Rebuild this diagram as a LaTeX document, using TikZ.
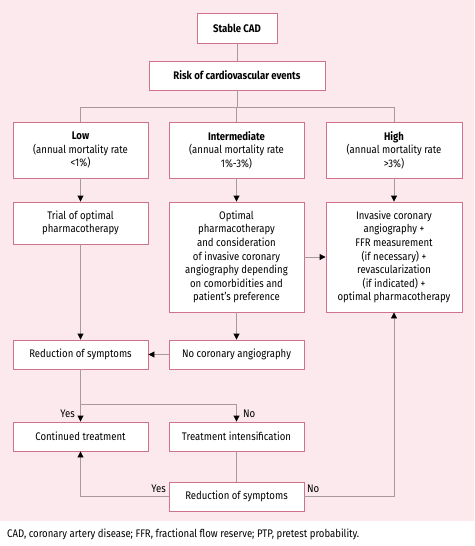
\documentclass[tikz,border=0pt]{standalone}
\usepackage{fontspec}
\setmainfont[FakeStretch=0.87]{Fira Sans}
\usetikzlibrary{arrows.meta}
\definecolor{bg}{HTML}{FCE9ED}
\definecolor{bd}{HTML}{D0728C}
\definecolor{ln}{HTML}{A89A9C}
\begin{document}
\begin{tikzpicture}[x=1pt,y=-1pt,
 box/.style={draw=bd,fill=white,line width=0.9pt,align=center,inner sep=0pt,font=\fontsize{11}{13.6}\selectfont},
 conn/.style={draw=ln,line width=0.9pt},
 arr/.style={conn,-{Triangle[length=6pt,width=6pt,color=black]}},
 lbl/.style={font=\fontsize{11}{13}\selectfont,inner sep=0pt}]
\useasboundingbox (0,0) rectangle (474,546);
\fill[bg] (0,0) rectangle (474,521);
\node[box,minimum width=80,minimum height=30,font=\bfseries\fontsize{11}{13.6}\selectfont] (cad) at (237,28) {Stable CAD};
\node[box,minimum width=176,minimum height=29,font=\bfseries\fontsize{11}{13.6}\selectfont] (risk) at (237,75.5) {Risk of cardiovascular events};
\node[box,minimum width=135,minimum height=56] (low) at (80.5,150) {\textbf{Low}\\(annual mortality rate\\<1\%)};
\node[box,minimum width=135,minimum height=56] (inter) at (236.5,150) {\textbf{Intermediate}\\(annual mortality rate\\1\%-3\%)};
\node[box,minimum width=136,minimum height=56] (high) at (394,150) {\textbf{High}\\(annual mortality rate\\>3\%)};
\node[box,minimum width=135,minimum height=42] (trial) at (80.5,223) {Trial of optimal\\pharmacotherapy};
\node[box,minimum width=135,minimum height=110] (opt) at (236.5,257) {Optimal\\pharmacotherapy\\and consideration\\of invasive coronary\\angiography depending\\on comorbidities and\\patient’s preference};
\node[box,minimum width=136,minimum height=110] (inv) at (394,257) {Invasive coronary\\angiography +\\FFR measurement\\(if necessary) +\\revascularization\\(if indicated) +\\optimal pharmacotherapy};
\node[box,minimum width=135,minimum height=29] (red1) at (80.5,354.5) {Reduction of symptoms};
\node[box,minimum width=135,minimum height=29] (nocor) at (236.5,354.5) {No coronary angiography};
\node[box,minimum width=135,minimum height=29] (cont) at (80.5,436.5) {Continued treatment};
\node[box,minimum width=135,minimum height=29] (intens) at (236.5,436.5) {Treatment intensification};
\node[box,minimum width=135,minimum height=29] (red2) at (236.5,496.5) {Reduction of symptoms};
\coordinate (br) at (237,107);
\coordinate (sp) at (80.5,404);
\draw[conn] (cad) -- (risk);
\draw[conn] (risk) -- (br);
\draw[conn] (low.north) -- (low.north |- br) -- (high.north |- br) -- (high.north);
\draw[conn] (inter.north) -- (inter.north |- br);
\draw[arr] (low) -- (trial);
\draw[arr] (inter) -- (opt);
\draw[arr] (high) -- (inv);
\draw[arr] (opt) -- (inv);
\draw[arr] (trial) -- (red1);
\draw[arr] (opt) -- (nocor);
\draw[arr] (nocor) -- (red1);
\draw[conn] (red1.south) -- (sp);
\draw[arr] (sp) -- (cont);
\draw[arr] (sp) -| (intens);
\draw[conn] (intens) -- (red2);
\draw[arr] (red2.west) -| (cont.south);
\draw[arr] (red2.east) -| (inv.south);
\node[lbl,anchor=east] (y1) at (75,414) {Yes};
\node[lbl,anchor=west] (n1) at (243,414) {No};
\node[lbl,anchor=east] (y2) at (166,489) {Yes};
\node[lbl,anchor=west] (n2) at (307,489) {No};
\node[lbl,anchor=west] (foot) at (7,534.5) {CAD, coronary artery disease; FFR, fractional flow reserve; PTP, pretest probability.};
\end{tikzpicture}
\end{document}
